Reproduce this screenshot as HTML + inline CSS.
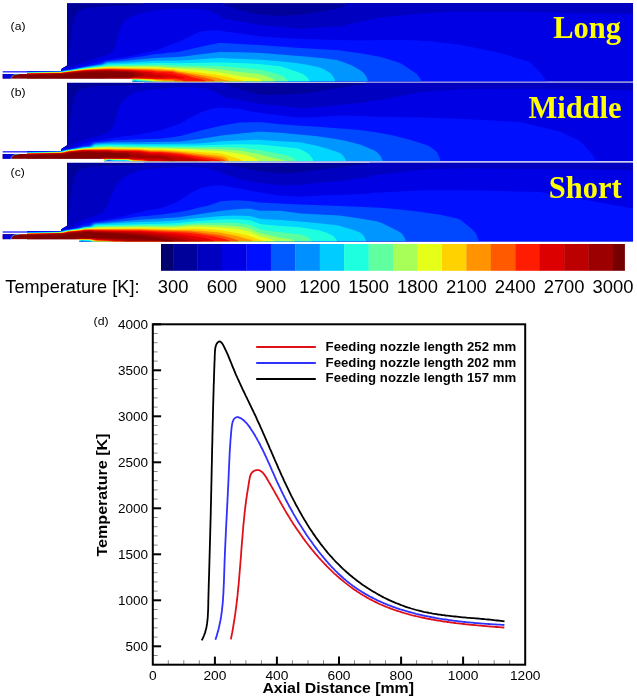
<!DOCTYPE html>
<html><head><meta charset="utf-8"><style>
html,body{margin:0;padding:0;background:#fff;width:637px;height:699px;overflow:hidden}
svg{display:block}
text{font-family:"Liberation Sans",Arial,sans-serif;fill:#000}
.cb{font-size:17.5px}
.tk{font-size:13px}
.lg{font-size:12.3px;font-weight:bold}
.ax{font-size:14.5px;font-weight:bold}
.dl{font-size:11.7px}
.pl{font-size:11.7px}
.nm{font-family:"Liberation Serif","Times New Roman",serif;font-weight:bold;font-size:30.5px;fill:#ffff00}
.mt{stroke:#888;stroke-width:1}
.Mt{stroke:#000;stroke-width:2}
</style></head><body>
<svg width="637" height="699" viewBox="0 0 637 699">
<clipPath id="clp0"><path d="M67 3.1 H633.2 V81.5 H27 V71.1 H61.3 V69.1 L67 65.5 Z"/></clipPath>
<g clip-path="url(#clp0)">
<rect x="27.0" y="3.1" width="606.2" height="78.4" fill="#00009a"/>
<path fill="#0000c0" fill-rule="evenodd" d="M144.7 3.1 222.4 3.1 223.3 4.2 225.0 5.0 238.7 9.4 257.4 14.1 262.7 14.9 280.0 15.7 300.0 14.8 320.7 11.8 342.7 7.3 343.7 6.7 344.7 5.8 345.9 3.1 633.0 3.1 633.0 81.4 27.0 81.4 27.0 61.8 59.0 61.8 65.7 62.2 66.7 62.0 67.3 59.8 68.0 56.2 69.9 43.8 71.6 29.8 73.3 20.8 74.4 17.4 76.1 14.1 77.7 12.1 79.8 10.4 81.5 9.4 83.4 8.8 91.3 7.4 110.3 6.1 138.0 5.3 142.0 4.5 143.8 3.8Z"/>
<path fill="#0000e4" fill-rule="evenodd" d="M172.7 9.1 182.0 8.8 197.3 9.1 200.9 9.4 209.7 11.3 213.0 12.3 217.0 14.3 223.0 18.0 225.7 19.0 260.3 25.0 300.0 28.7 342.7 26.2 344.3 25.8 349.0 24.0 353.7 23.3 377.7 18.0 383.0 17.2 400.3 15.5 429.3 13.1 458.3 11.6 498.7 11.5 527.7 11.8 561.7 12.9 633.0 14.1 633.0 81.4 27.0 81.4 27.0 63.8 59.7 63.9 61.4 64.4 63.2 66.4 64.7 67.4 66.3 67.9 68.0 67.9 70.3 67.3 75.7 64.9 83.7 62.8 98.0 57.6 107.9 54.8 111.1 53.1 113.3 50.2 114.7 47.2 119.3 31.1 121.3 25.8 122.3 24.0 124.0 21.8 126.0 19.8 128.3 17.9 132.2 16.1 141.3 13.0 147.0 12.2 152.0 11.0 157.7 10.1 161.7 9.7Z"/>
<path fill="#0010ff" fill-rule="evenodd" d="M213.7 30.4 219.7 30.4 225.0 31.4 259.0 36.2 281.7 38.0 300.7 39.0 358.7 40.6 381.7 39.9 415.0 40.3 431.6 41.4 460.0 44.8 499.2 52.8 528.3 61.6 530.3 62.6 532.0 64.0 541.0 72.9 543.7 76.9 545.3 80.0 545.9 81.4 27.0 81.4 27.0 70.7 57.3 70.4 68.9 69.1 87.2 64.8 104.0 60.2 138.0 54.8 141.3 53.3 149.8 52.1 160.0 49.1 178.9 41.4 199.0 31.9 202.7 31.2Z"/>
<path fill="#0048ff" fill-rule="evenodd" d="M218.7 43.1 223.0 42.9 262.3 45.3 300.0 48.0 338.0 50.2 358.7 52.9 367.5 54.4 380.7 57.1 395.7 61.4 399.7 62.9 403.4 65.1 416.7 74.0 419.0 76.7 421.0 80.1 421.5 81.4 27.0 81.4 27.0 71.8 57.2 71.4 60.3 71.2 64.3 70.3 70.7 69.4 100.3 63.4 102.0 62.9 104.7 61.4 106.3 60.9 126.7 58.7 137.3 56.9 144.7 56.1 150.0 54.9 155.7 54.1 162.0 53.7 167.3 52.8 173.3 52.5 180.3 51.6 199.7 46.9Z"/>
<path fill="#0096ff" fill-rule="evenodd" d="M219.3 52.1 239.0 52.2 261.3 52.9 302.0 56.2 321.0 58.1 336.7 60.1 341.5 61.4 350.2 64.8 354.7 67.1 361.3 71.1 363.7 72.9 365.3 74.9 367.0 78.1 368.1 81.4 27.0 81.4 27.0 72.2 60.0 71.6 65.0 70.6 71.1 69.8 85.7 66.9 101.3 64.4 103.0 63.9 105.7 62.5 107.7 62.0 126.3 60.8 137.3 59.6 155.7 57.9 181.0 56.7Z"/>
<path fill="#00d6ff" fill-rule="evenodd" d="M218.3 58.1 261.3 59.7 279.3 61.3 297.7 63.3 308.6 65.1 319.4 67.4 323.4 69.1 327.7 71.4 330.7 73.5 332.3 75.3 334.3 78.6 335.4 81.4 27.0 81.4 27.0 72.4 61.0 71.8 65.3 70.9 70.9 70.1 86.0 67.3 102.0 65.0 106.3 63.5 108.3 63.2 129.0 62.4 156.7 60.8 181.7 60.5Z"/>
<path fill="#1effe0" fill-rule="evenodd" d="M215.7 62.4 223.7 62.5 259.0 64.0 279.7 66.3 285.0 67.8 297.8 72.1 302.7 74.1 305.3 75.7 307.0 77.1 309.0 79.8 309.9 81.4 137.1 81.4 136.5 80.4 135.9 80.1 134.7 79.9 133.9 80.1 133.5 81.4 27.0 81.4 27.0 72.6 60.7 72.0 85.0 67.9 102.0 65.7 107.7 64.4 132.3 63.8 156.7 63.0 180.0 63.2Z"/>
<path fill="#5cffa0" fill-rule="evenodd" d="M151.3 64.8 162.0 64.8 179.3 65.6 219.7 66.0 259.0 69.6 263.0 70.3 274.0 72.9 280.0 74.9 282.7 76.1 284.7 77.4 287.0 79.9 288.0 81.4 142.0 81.4 140.4 80.4 134.7 79.4 133.2 79.8 133.0 80.1 132.8 81.4 27.0 81.4 27.0 72.8 61.0 72.2 84.7 68.4 102.3 66.4 107.7 65.5Z"/>
<path fill="#a8ff58" fill-rule="evenodd" d="M147.0 66.1 161.3 66.2 167.3 66.7 178.3 67.2 199.3 67.8 221.7 69.4 239.7 71.9 257.3 73.8 261.1 74.4 264.5 75.4 271.3 77.9 273.7 79.4 275.3 81.4 147.2 81.4 146.5 80.8 144.5 80.1 134.7 79.2 133.3 79.3 132.7 79.7 132.3 81.4 27.0 81.4 27.0 72.9 61.0 72.3 85.0 68.7 107.3 66.3Z"/>
<path fill="#e8ff20" fill-rule="evenodd" d="M106.3 67.1 124.0 67.0 133.0 67.2 161.0 67.3 167.3 68.0 173.3 68.2 178.7 68.7 200.4 70.1 219.0 72.3 240.0 76.2 257.3 78.4 259.7 79.2 262.4 81.4 152.6 81.4 152.1 80.8 151.4 80.4 149.8 80.1 134.3 79.0 133.1 79.1 132.3 79.4 131.9 80.1 131.8 81.4 27.0 81.4 27.0 73.1 61.0 72.5 84.7 69.1Z"/>
<path fill="#ffd600" fill-rule="evenodd" d="M105.7 67.7 113.3 67.6 133.0 68.0 151.3 68.1 161.7 68.5 167.0 69.1 173.3 69.3 178.3 70.2 200.0 72.5 220.7 75.5 241.3 80.3 243.0 80.8 244.1 81.4 155.3 81.4 154.4 80.4 152.0 79.8 134.3 78.8 132.7 79.0 131.8 79.4 131.5 80.1 131.4 81.4 27.0 81.4 27.0 73.2 61.0 72.6 67.3 71.6 84.7 69.4Z"/>
<path fill="#ff9600" fill-rule="evenodd" d="M104.3 68.4 113.0 68.2 150.7 69.0 162.0 69.6 167.0 70.1 173.0 70.3 178.3 71.4 201.0 74.7 217.8 78.1 225.0 80.0 230.0 80.9 231.4 81.4 164.2 81.4 163.3 80.8 162.3 80.6 157.3 80.3 152.6 79.4 134.3 78.6 132.7 78.8 131.7 79.2 131.2 79.8 131.0 81.4 27.0 81.4 27.0 73.3 61.0 72.7 67.7 71.7 84.7 69.7Z"/>
<path fill="#ff5200" fill-rule="evenodd" d="M99.7 69.1 108.7 68.8 125.3 69.1 150.7 69.8 157.0 70.4 172.7 71.1 177.7 72.4 184.4 73.4 205.3 77.8 212.7 79.8 214.3 80.6 215.3 81.4 175.1 81.4 174.0 80.4 172.0 80.0 158.0 79.6 151.7 79.0 134.3 78.5 132.3 78.7 131.2 79.1 130.7 79.8 130.6 81.4 27.0 81.4 27.0 73.4 61.0 72.9 68.0 71.9 84.3 70.0Z"/>
<path fill="#ff1208" fill-rule="evenodd" d="M102.0 69.4 111.0 69.3 133.3 70.0 151.0 70.8 157.3 71.5 172.0 72.1 177.0 73.5 183.7 74.8 192.3 77.3 202.3 79.6 204.7 80.5 206.1 81.4 184.1 81.4 183.0 80.7 181.0 80.1 174.0 79.1 158.0 79.1 151.7 78.7 134.7 78.3 132.0 78.5 130.7 79.1 130.3 79.8 130.1 81.4 27.0 81.4 27.0 73.6 61.3 73.0 68.0 72.1 84.3 70.3Z"/>
<path fill="#e40000" fill-rule="evenodd" d="M104.7 69.8 112.7 69.8 132.0 70.5 151.3 71.9 157.0 73.0 162.3 73.2 167.0 74.0 172.7 74.4 176.7 75.7 181.7 76.7 183.4 77.4 184.3 78.1 184.2 78.4 183.3 78.5 171.3 78.0 160.0 78.6 133.3 78.1 131.3 78.5 130.1 79.1 129.8 79.8 129.6 81.4 27.0 81.4 27.0 73.7 61.0 73.2 68.7 72.2 85.0 70.6Z"/>
<path fill="#c40000" fill-rule="evenodd" d="M94.3 70.4 110.0 70.2 133.1 71.1 149.9 73.1 152.0 73.6 155.7 75.2 162.0 75.6 163.3 76.1 163.6 76.4 162.7 77.1 160.7 77.4 151.0 77.3 132.3 78.0 130.4 78.4 129.4 79.1 129.1 79.8 128.9 81.4 27.0 81.4 27.0 73.9 61.7 73.4 68.6 72.4 82.3 71.1Z"/>
<path fill="#a40000" fill-rule="evenodd" d="M96.7 70.8 110.7 70.6 131.3 71.6 134.0 71.9 141.1 73.4 143.0 74.1 143.8 74.8 143.7 75.1 143.1 75.4 142.0 75.8 129.7 78.2 128.4 79.1 127.8 81.4 27.0 81.4 27.0 74.2 62.0 73.6 68.5 72.8 82.7 71.4Z"/>
<path fill="#840000" fill-rule="evenodd" d="M96.7 71.8 109.0 71.5 126.0 72.2 132.8 73.1 134.3 73.9 134.8 74.8 134.0 75.7 132.7 76.4 128.3 77.1 109.3 77.4 107.0 77.6 106.0 78.0 105.1 78.8 104.5 80.1 104.2 81.4 27.0 81.4 27.0 74.9 62.7 74.3 82.1 72.4Z"/>
</g>
<rect x="2.7" y="71.1" width="24.5" height="1.4" fill="#2e2eff"/>
<rect x="2.7" y="74.0" width="24.5" height="4.8" fill="#840000"/>
<path d="M2.7 74.0 H19 Q13 74.3 12 76.2 Q10.5 78.0 11 78.8 H2.7 Z" fill="#0000d8"/>
<path d="M19 74.0 Q13 74.3 12 76.2 Q10.5 78.0 11 78.8" fill="none" stroke="#40e0ff" stroke-width="0.6"/>
<rect x="0" y="78.8" width="132.0" height="3.7" fill="#fff"/>
<clipPath id="clp1"><path d="M67 82.5 H633.2 V161.3 H27 V151.1 H61.3 V149.1 L67 145.3 Z"/></clipPath>
<g clip-path="url(#clp1)">
<rect x="27.0" y="82.5" width="606.2" height="78.8" fill="#00009a"/>
<path fill="#0000c0" fill-rule="evenodd" d="M144.7 82.6 222.9 82.5 224.0 83.7 226.0 84.8 240.6 89.5 259.0 94.4 261.7 94.8 265.0 94.9 281.0 94.8 301.3 93.7 319.7 91.0 340.9 87.5 357.6 85.2 362.7 84.7 365.0 83.9 366.0 83.2 366.4 82.5 633.0 82.5 633.0 161.2 27.0 161.2 27.0 141.8 59.7 141.9 65.7 142.2 66.3 142.1 66.8 141.8 67.3 139.7 68.3 133.9 71.6 109.5 73.2 100.8 74.3 96.9 76.0 93.6 77.7 91.5 79.8 89.8 81.5 88.8 83.4 88.2 91.3 86.8 100.7 86.2 115.0 86.0 138.3 85.0 142.0 84.2 143.7 83.3Z"/>
<path fill="#0000e4" fill-rule="evenodd" d="M186.3 87.2 199.0 87.7 208.3 89.0 212.0 90.3 221.9 95.8 225.0 97.2 257.7 103.4 262.3 104.1 300.3 108.3 320.6 106.8 357.0 103.2 363.3 102.8 369.3 101.1 375.0 100.6 378.1 100.2 420.0 92.2 459.0 89.3 520.3 88.7 576.0 89.5 600.0 90.1 633.0 90.2 633.0 161.2 27.0 161.2 27.0 143.8 59.7 143.8 61.3 144.4 63.3 146.5 64.7 147.4 66.3 147.9 68.3 147.8 71.2 146.8 76.0 143.3 82.7 140.1 86.3 139.0 98.2 136.2 104.8 133.8 107.7 132.5 110.7 130.1 112.5 127.5 114.7 121.8 118.3 109.4 119.7 106.1 121.0 103.6 123.0 101.0 125.6 98.5 130.3 94.8 133.1 93.2 136.4 92.2 140.9 91.2 147.7 90.4 152.8 89.5 176.1 87.5Z"/>
<path fill="#0010ff" fill-rule="evenodd" d="M218.7 107.8 221.3 107.7 226.3 108.0 239.0 109.1 261.3 113.1 280.3 115.5 299.7 117.5 319.0 117.0 338.0 115.6 343.0 115.5 363.7 116.1 370.0 116.6 421.0 117.5 459.0 118.7 519.7 122.0 558.7 131.3 562.7 132.8 577.3 139.7 579.7 141.1 581.3 142.5 590.5 152.2 593.0 155.7 595.9 161.2 27.0 161.2 27.0 150.7 57.0 150.4 59.0 150.2 62.3 149.4 68.6 148.8 71.6 148.2 83.7 144.0 92.0 141.6 122.0 136.6 138.4 134.8 143.3 133.4 149.9 132.5 158.4 130.8 178.4 124.5 192.0 116.7 199.7 113.1 206.3 110.4 211.0 108.9Z"/>
<path fill="#0048ff" fill-rule="evenodd" d="M253.0 122.2 261.0 122.2 280.0 124.2 297.0 125.6 320.7 127.0 359.3 130.0 375.7 132.2 389.9 134.8 409.9 139.8 425.7 144.8 429.3 146.3 434.0 149.6 437.0 152.6 439.1 156.5 440.4 161.2 27.0 161.2 27.0 152.0 55.0 151.5 59.7 151.2 64.0 149.9 71.3 148.8 82.7 146.3 88.8 145.5 89.7 145.1 92.8 142.8 95.7 142.2 109.7 141.1 115.3 140.3 126.7 140.1 133.3 139.5 160.0 138.7 175.8 136.8 181.5 135.8 200.7 130.6 221.0 125.7 239.3 122.6Z"/>
<path fill="#0096ff" fill-rule="evenodd" d="M257.3 131.8 262.3 131.7 279.7 132.8 317.7 136.3 337.3 139.2 345.3 140.8 360.0 144.5 374.3 150.5 377.3 152.4 379.3 154.4 380.7 156.3 383.0 161.2 110.3 161.2 109.7 160.7 108.7 160.5 108.0 160.7 107.6 161.2 27.0 161.2 27.0 152.4 60.0 151.6 65.3 150.0 71.5 149.2 83.0 147.0 90.0 146.4 91.2 145.8 93.7 143.9 95.7 143.3 105.0 142.7 115.3 142.3 140.0 142.2 179.7 141.4 197.8 139.2 221.7 135.4 240.3 133.4Z"/>
<path fill="#00d6ff" fill-rule="evenodd" d="M256.0 139.8 261.7 139.9 280.0 141.3 299.3 142.2 303.7 142.9 314.8 145.2 322.4 147.2 336.9 151.8 339.7 153.0 341.7 154.2 343.3 155.9 345.3 159.0 346.2 161.2 113.1 161.2 112.4 160.5 111.5 160.2 108.7 159.8 106.7 160.2 106.2 161.2 27.0 161.2 27.0 152.6 60.3 151.8 66.0 150.2 83.7 147.4 90.7 146.8 92.0 146.4 94.3 144.8 96.3 144.4 107.0 143.8 126.7 143.8 135.0 144.1 159.0 144.1 197.0 143.4 201.6 143.2 221.7 141.3Z"/>
<path fill="#1effe0" fill-rule="evenodd" d="M228.7 144.5 241.0 144.2 260.0 144.6 298.0 148.5 300.1 149.2 303.0 150.5 306.0 152.2 308.7 154.0 311.0 156.4 312.7 159.1 313.5 161.2 127.3 161.2 126.7 160.7 125.7 160.4 116.0 160.3 108.7 159.6 106.3 159.8 105.8 160.2 105.6 161.2 27.0 161.2 27.0 152.8 60.3 152.0 66.7 150.4 83.7 147.8 91.0 147.2 92.5 146.8 95.0 145.7 96.7 145.4 108.0 144.9 150.3 145.6 197.0 145.5Z"/>
<path fill="#5cffa0" fill-rule="evenodd" d="M102.0 146.2 108.7 146.0 150.7 146.7 198.3 147.1 220.3 147.0 240.3 147.6 260.3 150.1 283.3 154.7 287.6 155.8 292.7 157.8 294.7 159.1 296.9 161.2 129.0 161.2 128.3 160.4 126.7 160.0 115.0 159.8 108.7 159.4 106.7 159.5 105.7 159.8 105.3 160.2 105.1 161.2 27.0 161.2 27.0 153.0 60.3 152.2 62.3 151.9 66.7 150.6 82.3 148.3 91.0 147.7 96.3 146.4Z"/>
<path fill="#a8ff58" fill-rule="evenodd" d="M98.0 147.2 107.7 146.9 140.0 147.2 216.7 148.9 226.9 149.5 239.3 150.5 247.7 152.0 258.0 154.1 267.7 156.6 283.0 160.0 284.7 160.5 285.8 161.2 130.1 161.2 129.7 160.5 129.2 160.2 127.3 159.7 115.3 159.6 108.3 159.2 105.3 159.6 104.8 160.2 104.6 161.2 27.0 161.2 27.0 153.1 60.3 152.4 62.3 152.1 65.7 151.0 67.7 150.6 83.7 148.5 91.0 148.1 95.3 147.3Z"/>
<path fill="#e8ff20" fill-rule="evenodd" d="M100.3 147.8 108.0 147.6 115.7 147.9 140.3 148.0 150.7 148.5 181.0 149.1 220.0 151.1 238.7 153.5 243.5 154.5 250.5 156.5 254.4 157.8 257.0 159.4 258.8 161.2 131.1 161.2 130.2 160.2 127.5 159.5 115.3 159.4 108.3 159.1 106.3 159.2 105.0 159.5 104.4 160.2 104.2 161.2 27.0 161.2 27.0 153.2 60.6 152.5 62.8 152.2 67.3 150.9 83.0 148.9Z"/>
<path fill="#ffd600" fill-rule="evenodd" d="M99.7 148.5 108.0 148.3 115.3 148.5 140.7 148.7 150.7 149.4 161.3 149.6 179.0 150.4 217.7 153.2 220.7 153.6 224.5 154.5 238.0 158.6 240.3 159.5 242.4 161.2 132.5 161.2 131.8 160.5 130.3 159.8 128.0 159.4 108.3 158.9 106.0 159.0 104.7 159.4 104.0 160.1 103.9 161.2 27.0 161.2 27.0 153.4 60.7 152.6 63.0 152.3 67.7 151.0 83.3 149.1Z"/>
<path fill="#ff9600" fill-rule="evenodd" d="M92.7 149.2 108.0 148.9 115.3 149.2 139.3 149.4 150.7 150.4 161.7 150.6 180.0 151.8 219.7 155.9 223.0 156.8 226.0 158.0 227.7 159.3 228.8 161.2 140.1 161.2 139.0 160.8 133.3 160.4 130.1 159.5 128.0 159.2 108.3 158.8 105.7 158.9 104.3 159.3 103.7 159.8 103.5 161.2 27.0 161.2 27.0 153.5 60.7 152.8 63.0 152.5 66.3 151.5 69.0 151.1 84.3 149.4Z"/>
<path fill="#ff5200" fill-rule="evenodd" d="M102.0 149.5 108.3 149.4 115.7 149.8 139.7 150.1 150.3 151.2 161.3 151.4 179.3 152.7 218.7 157.9 223.1 159.2 224.8 160.2 225.8 161.2 143.4 161.2 142.7 160.7 141.3 160.4 133.7 160.0 128.3 159.0 108.3 158.7 105.7 158.8 104.1 159.2 103.3 159.8 103.1 161.2 27.0 161.2 27.0 153.6 60.7 152.9 63.3 152.6 68.0 151.4 83.7 149.7Z"/>
<path fill="#ff1208" fill-rule="evenodd" d="M82.3 150.1 87.7 149.9 97.0 150.0 108.0 149.9 115.7 150.4 138.7 150.7 150.3 152.0 159.7 152.1 165.2 152.5 177.3 153.5 182.7 154.2 211.6 158.8 219.0 160.2 221.6 161.2 146.0 161.2 145.1 160.5 143.0 160.0 133.7 159.7 128.7 158.9 108.3 158.5 105.3 158.7 103.7 159.1 102.9 159.8 102.7 161.2 27.0 161.2 27.0 153.8 61.3 153.0 63.7 152.7 68.5 151.5Z"/>
<path fill="#e40000" fill-rule="evenodd" d="M81.7 150.5 87.7 150.2 96.7 150.5 108.0 150.4 115.7 150.9 128.0 151.0 140.3 151.5 150.7 152.9 162.0 153.3 181.0 155.2 202.3 159.4 209.0 160.3 211.4 161.2 148.9 161.2 148.1 160.5 147.3 160.2 143.0 159.6 134.0 159.3 128.0 158.7 108.3 158.4 105.0 158.5 103.3 159.0 102.4 159.8 102.3 161.2 27.0 161.2 27.0 153.9 61.0 153.2 64.0 152.9 68.7 151.7Z"/>
<path fill="#c40000" fill-rule="evenodd" d="M81.7 150.8 88.0 150.5 96.3 150.9 108.6 150.8 115.3 151.5 127.3 151.6 133.3 152.2 140.0 152.4 149.0 154.0 162.0 154.5 186.4 157.8 195.4 159.5 197.3 160.2 198.7 161.2 163.9 161.2 161.7 160.2 158.7 159.8 152.0 159.7 142.7 159.0 134.0 158.9 128.3 158.4 108.3 158.2 105.0 158.3 102.9 158.8 102.1 159.5 101.8 161.2 27.0 161.2 27.0 154.1 61.7 153.4 64.7 153.0 69.3 151.9Z"/>
<path fill="#a40000" fill-rule="evenodd" d="M82.3 151.2 88.3 151.0 96.0 151.4 108.0 151.3 115.3 152.2 127.3 152.3 133.3 153.5 139.5 153.8 144.0 154.9 147.3 155.4 160.1 155.8 165.6 156.8 170.3 158.2 172.3 159.2 175.0 161.2 169.8 161.2 168.7 160.3 165.7 159.3 162.7 158.7 159.3 158.3 138.7 157.9 117.7 158.1 108.3 157.9 105.0 158.0 102.3 158.6 101.4 159.5 101.2 161.2 27.0 161.2 27.0 154.4 61.7 153.6 65.0 153.3 69.6 152.2Z"/>
<path fill="#840000" fill-rule="evenodd" d="M82.0 152.2 88.0 152.0 97.0 152.5 107.3 152.2 114.7 153.3 126.3 153.4 128.3 154.0 129.4 154.8 129.7 155.5 129.4 156.2 128.7 156.8 126.7 157.3 116.0 157.4 108.0 157.1 104.3 157.4 102.0 158.0 100.4 158.8 100.1 159.5 100.0 161.2 27.0 161.2 27.0 155.1 62.0 154.4 66.3 154.0 72.1 152.8Z"/>
</g>
<rect x="2.7" y="151.1" width="24.5" height="1.4" fill="#2e2eff"/>
<rect x="2.7" y="154.0" width="24.5" height="4.9" fill="#840000"/>
<path d="M2.7 154.0 H19 Q13 154.3 12 156.2 Q10.5 158.1 11 158.9 H2.7 Z" fill="#0000d8"/>
<path d="M19 154.0 Q13 154.3 12 156.2 Q10.5 158.1 11 158.9" fill="none" stroke="#40e0ff" stroke-width="0.6"/>
<rect x="0" y="158.9" width="104.0" height="3.4" fill="#fff"/>
<clipPath id="clp2"><path d="M67 162.5 H633.2 V241.5 H27 V231.3 H61.3 V229.3 L67 225.8 Z"/></clipPath>
<g clip-path="url(#clp2)">
<rect x="27.0" y="162.5" width="606.2" height="79.0" fill="#00009a"/>
<path fill="#0000c0" fill-rule="evenodd" d="M144.3 162.7 144.4 162.5 223.0 162.5 223.7 163.4 224.7 164.0 227.3 165.0 257.2 170.8 263.9 171.8 280.7 173.5 299.7 172.4 319.3 169.6 339.7 167.6 357.3 165.1 366.0 164.6 368.3 163.9 369.3 163.2 369.8 162.5 633.0 162.5 633.0 241.5 27.0 241.5 27.0 222.2 59.7 222.2 65.7 222.5 66.3 222.5 66.8 222.2 68.0 216.5 69.8 203.8 71.6 189.5 73.3 180.5 74.3 177.0 76.0 173.6 77.7 171.5 79.8 169.8 81.5 168.8 83.4 168.2 91.3 166.8 101.7 166.2 140.3 165.1 142.7 164.4 143.7 163.6Z"/>
<path fill="#0000e4" fill-rule="evenodd" d="M175.7 167.5 187.7 167.2 196.3 167.5 201.0 167.8 208.2 168.8 211.7 169.6 218.3 171.4 225.0 174.4 241.6 179.5 261.0 183.1 277.3 185.1 281.7 185.4 299.7 184.9 320.0 182.6 340.0 181.3 358.7 178.3 367.0 177.8 369.0 177.2 372.3 175.5 374.0 175.1 382.0 174.6 417.3 169.9 422.0 169.5 462.3 168.5 539.0 168.9 633.0 169.9 633.0 241.5 27.0 241.5 27.0 224.0 59.7 224.1 61.3 224.6 63.2 226.8 65.3 228.1 67.7 228.3 70.0 227.8 71.9 226.8 75.7 223.7 81.3 220.7 85.3 219.1 97.2 215.2 101.1 213.2 103.7 211.4 106.0 208.3 107.3 205.9 112.6 192.2 115.3 186.8 117.7 183.6 120.0 181.0 123.7 177.8 127.5 175.2 130.4 173.8 139.4 170.5 148.0 168.9Z"/>
<path fill="#0010ff" fill-rule="evenodd" d="M215.3 185.5 219.0 185.2 221.7 185.4 239.6 188.5 260.7 192.6 278.7 195.5 299.0 196.8 320.0 195.5 339.7 195.1 358.7 193.9 366.7 193.7 373.3 192.7 382.3 192.5 421.0 190.2 460.7 190.3 540.0 191.9 582.7 199.6 633.0 208.4 633.0 241.5 27.0 241.5 27.0 230.9 57.3 230.6 62.3 229.7 69.3 229.0 73.8 227.8 83.7 224.0 91.7 221.8 102.5 220.2 123.7 216.2 136.3 213.0 140.7 212.2 145.0 210.8 152.2 209.8 158.7 208.5 168.5 205.5 177.6 201.5 181.0 199.5 190.0 193.6 199.3 188.8 202.3 187.8 208.0 186.5Z"/>
<path fill="#0048ff" fill-rule="evenodd" d="M234.7 200.2 249.0 200.9 259.3 202.5 263.7 202.8 299.7 204.6 340.0 205.9 380.0 207.7 400.0 209.6 417.7 211.5 438.6 214.5 457.0 218.5 459.0 219.2 461.0 220.3 471.0 228.3 474.3 231.4 475.3 232.7 476.5 234.8 478.3 239.5 478.9 241.5 27.0 241.5 27.0 232.2 59.3 231.5 63.7 230.2 71.2 229.2 79.0 227.5 83.7 226.1 88.8 225.5 89.7 225.1 92.3 223.1 94.3 222.4 103.0 221.6 139.7 216.6 160.0 214.8 177.9 212.2 189.0 210.2 199.7 207.4 208.7 205.5 220.0 201.6 224.0 201.0Z"/>
<path fill="#0096ff" fill-rule="evenodd" d="M244.7 208.8 250.3 208.8 258.3 210.4 261.0 210.8 280.0 210.7 301.0 213.4 339.7 215.4 361.9 218.8 377.4 221.5 379.7 222.2 382.8 223.5 397.0 230.5 400.3 232.4 402.0 233.8 403.3 235.6 405.1 238.8 406.0 241.5 27.0 241.5 27.0 232.6 59.9 231.8 65.0 230.4 79.3 228.2 83.7 226.9 90.0 226.3 91.2 225.8 93.3 224.0 95.7 223.3 103.0 222.9 140.0 219.7 179.0 217.3 220.3 211.0 233.7 209.6Z"/>
<path fill="#00d6ff" fill-rule="evenodd" d="M233.7 215.5 249.0 215.9 251.7 216.4 258.7 218.4 261.7 218.9 280.7 220.0 299.3 221.4 323.7 223.7 338.3 225.4 355.9 230.8 360.0 232.5 362.0 233.9 363.7 235.8 365.3 238.8 366.3 241.5 83.6 241.5 82.9 240.8 82.0 240.7 81.0 240.8 80.7 241.5 27.0 241.5 27.0 232.8 60.0 232.1 65.7 230.6 79.8 228.5 84.3 227.3 90.6 226.8 92.0 226.3 94.3 224.7 96.3 224.3 139.3 222.1 160.0 221.5 177.7 220.6 191.7 218.8 219.0 216.3Z"/>
<path fill="#1effe0" fill-rule="evenodd" d="M230.7 219.2 236.7 219.2 248.0 220.0 251.0 220.6 258.7 223.5 262.0 224.3 279.7 226.0 300.3 227.3 318.5 230.2 322.2 231.2 326.0 232.5 332.3 235.5 333.7 236.4 335.0 237.8 336.4 239.8 337.2 241.5 89.5 241.5 89.0 240.8 88.0 240.6 82.0 240.1 80.2 240.5 79.8 241.5 27.0 241.5 27.0 233.0 60.7 232.2 66.3 230.7 79.9 228.8 84.3 227.7 91.0 227.2 92.3 226.8 95.0 225.6 96.3 225.3 168.3 223.5 179.7 222.9 191.7 221.4 219.7 219.6Z"/>
<path fill="#5cffa0" fill-rule="evenodd" d="M215.7 222.8 234.0 222.8 245.0 224.1 248.3 224.6 250.7 225.2 258.8 228.8 262.3 229.9 279.7 232.3 299.0 234.2 303.9 235.5 307.7 237.1 310.0 238.9 311.0 240.2 311.7 241.5 91.0 241.5 90.5 240.5 89.6 240.2 82.0 239.9 79.9 240.2 79.5 240.5 79.2 241.5 27.0 241.5 27.0 233.2 60.3 232.4 62.1 232.2 66.7 230.9 80.0 229.1 84.7 228.0 91.3 227.6 96.3 226.3 138.7 225.3 169.3 225.2 179.3 224.7 192.3 223.4Z"/>
<path fill="#a8ff58" fill-rule="evenodd" d="M199.7 224.8 219.3 225.2 232.7 225.7 236.3 226.1 245.3 227.6 250.7 228.9 258.3 232.5 261.3 233.6 279.0 237.4 290.3 239.3 293.0 240.2 295.1 241.5 92.0 241.5 91.6 240.5 90.3 240.0 82.0 239.7 80.1 239.8 79.2 240.2 78.9 240.5 78.7 241.5 27.0 241.5 27.0 233.3 60.7 232.6 67.7 230.9 80.0 229.4 85.0 228.4 91.0 228.1 97.0 227.0 139.3 226.3 171.0 226.5 180.0 226.1 190.7 225.1Z"/>
<path fill="#e8ff20" fill-rule="evenodd" d="M187.7 226.8 199.3 226.5 218.0 227.2 235.3 228.6 249.0 231.5 259.0 236.0 270.8 239.2 273.3 240.2 275.2 241.5 92.9 241.5 92.4 240.5 90.9 239.8 82.0 239.5 80.0 239.7 79.0 240.0 78.5 240.5 78.3 241.5 27.0 241.5 27.0 233.5 60.3 232.7 62.7 232.4 67.7 231.1 80.0 229.7 85.0 228.7 91.3 228.4 96.7 227.8 139.7 227.3 171.7 227.7 180.0 227.5Z"/>
<path fill="#ffd600" fill-rule="evenodd" d="M104.0 228.5 140.0 228.2 175.3 229.0 191.7 228.5 200.3 228.8 211.3 229.6 219.3 230.3 224.7 231.0 235.0 232.7 245.7 235.0 251.0 236.4 258.3 239.4 264.0 240.7 265.9 241.5 93.8 241.5 93.3 240.5 91.3 239.7 82.0 239.4 80.0 239.5 78.7 239.8 78.1 240.5 78.0 241.5 27.0 241.5 27.0 233.6 60.3 232.9 63.0 232.5 68.0 231.3 80.0 230.0 85.3 229.0Z"/>
<path fill="#ff9600" fill-rule="evenodd" d="M95.0 229.2 140.3 228.9 171.0 230.0 190.3 230.2 200.0 230.8 219.0 232.6 230.9 234.8 236.7 236.1 250.3 239.7 252.3 240.5 253.7 241.5 95.2 241.5 94.3 240.5 91.3 239.5 81.7 239.3 79.3 239.4 78.2 239.8 77.7 240.5 77.6 241.5 27.0 241.5 27.0 233.7 60.7 233.0 63.3 232.6 68.0 231.4 80.3 230.2 85.0 229.4Z"/>
<path fill="#ff5200" fill-rule="evenodd" d="M84.0 229.8 88.3 229.5 139.7 229.7 191.0 231.6 207.3 233.4 220.7 235.3 229.3 237.5 235.7 239.4 238.0 240.5 239.1 241.5 109.3 241.5 107.0 241.1 97.0 240.6 90.7 239.3 81.7 239.1 79.3 239.3 78.0 239.7 77.4 240.2 77.2 241.5 27.0 241.5 27.0 233.8 61.0 233.1 63.3 232.8 68.3 231.6 80.3 230.5Z"/>
<path fill="#ff1208" fill-rule="evenodd" d="M84.0 230.1 88.7 229.9 96.7 230.2 140.0 230.5 187.5 232.8 200.0 234.2 214.1 236.5 225.5 239.2 228.3 240.3 230.1 241.5 111.7 241.5 111.0 241.1 109.0 240.8 96.3 240.0 90.7 239.1 81.7 239.0 79.3 239.1 77.8 239.5 77.0 240.2 76.8 241.5 27.0 241.5 27.0 234.0 61.0 233.3 63.7 232.9 68.7 231.7 80.3 230.7Z"/>
<path fill="#e40000" fill-rule="evenodd" d="M83.7 230.5 89.0 230.2 96.3 230.6 139.7 231.3 177.7 233.8 188.7 235.2 201.7 237.2 210.7 239.3 212.7 240.3 214.0 241.5 113.7 241.5 112.0 240.8 108.3 240.3 96.0 239.7 90.7 239.0 81.7 238.8 79.0 239.0 77.2 239.5 76.5 240.2 76.4 241.5 27.0 241.5 27.0 234.1 61.3 233.4 64.0 233.1 69.3 231.9 80.3 231.0Z"/>
<path fill="#c40000" fill-rule="evenodd" d="M84.0 230.8 89.3 230.6 95.7 231.1 139.0 232.3 168.3 234.7 181.9 236.5 199.3 240.2 201.0 240.8 202.2 241.5 123.4 241.5 121.3 241.0 109.3 239.9 96.0 239.3 90.3 238.7 82.0 238.7 79.0 238.8 77.0 239.2 76.0 240.2 75.9 241.5 27.0 241.5 27.0 234.3 61.3 233.6 64.3 233.3 69.0 232.2 80.3 231.3Z"/>
<path fill="#a40000" fill-rule="evenodd" d="M84.3 231.2 89.3 231.0 95.0 231.5 119.6 232.5 143.0 233.8 158.9 235.5 170.5 237.2 185.3 239.9 187.7 240.6 188.9 241.5 126.4 241.5 124.3 240.6 119.7 240.0 103.3 239.1 96.0 238.9 91.3 238.5 82.3 238.4 78.3 238.6 76.3 239.1 75.5 239.8 75.2 241.5 27.0 241.5 27.0 234.6 62.3 233.8 65.3 233.4 69.3 232.5 80.7 231.7Z"/>
<path fill="#840000" fill-rule="evenodd" d="M86.0 231.8 89.3 231.8 94.0 232.4 104.9 232.8 139.7 235.3 162.0 238.4 171.3 240.3 172.8 240.8 173.8 241.5 163.9 241.5 162.7 240.9 160.3 240.5 141.3 239.6 108.3 238.3 87.0 237.7 79.7 237.9 76.3 238.4 75.0 238.9 74.3 239.5 74.1 240.2 74.1 241.5 27.0 241.5 27.0 235.3 61.3 234.6 67.0 234.1 71.1 233.2 81.7 232.4Z"/>
</g>
<rect x="2.7" y="231.3" width="24.5" height="1.4" fill="#2e2eff"/>
<rect x="2.7" y="234.2" width="24.5" height="5.2" fill="#840000"/>
<path d="M2.7 234.2 H19 Q13 234.5 12 236.4 Q10.5 238.6 11 239.4 H2.7 Z" fill="#0000d8"/>
<path d="M19 234.2 Q13 234.5 12 236.4 Q10.5 238.6 11 239.4" fill="none" stroke="#40e0ff" stroke-width="0.6"/>
<rect x="0" y="239.4" width="79.0" height="3.1" fill="#fff"/>
<text transform="translate(10.6,29.8) scale(1.04,1)" class="pl">(a)</text>
<text transform="translate(10.6,95.8) scale(1.04,1)" class="pl">(b)</text>
<text transform="translate(10.6,176.1) scale(1.04,1)" class="pl">(c)</text>
<text x="621" y="38.2" text-anchor="end" class="nm">Long</text>
<text x="621.6" y="117.7" text-anchor="end" class="nm">Middle</text>
<text x="621.6" y="198.1" text-anchor="end" class="nm">Short</text>
<rect x="161.00" y="244" width="12.40" height="26.8" fill="#00006e"/>
<rect x="173.10" y="244" width="24.74" height="26.8" fill="#00009a"/>
<rect x="197.54" y="244" width="24.74" height="26.8" fill="#0000c0"/>
<rect x="221.98" y="244" width="24.74" height="26.8" fill="#0000e4"/>
<rect x="246.42" y="244" width="24.74" height="26.8" fill="#0010ff"/>
<rect x="270.86" y="244" width="24.74" height="26.8" fill="#0058ff"/>
<rect x="295.30" y="244" width="24.74" height="26.8" fill="#0090ff"/>
<rect x="319.74" y="244" width="24.74" height="26.8" fill="#00ccff"/>
<rect x="344.18" y="244" width="24.74" height="26.8" fill="#1effe0"/>
<rect x="368.62" y="244" width="24.74" height="26.8" fill="#60ffa0"/>
<rect x="393.06" y="244" width="24.74" height="26.8" fill="#a8ff58"/>
<rect x="417.50" y="244" width="24.74" height="26.8" fill="#e6ff18"/>
<rect x="441.94" y="244" width="24.74" height="26.8" fill="#ffd200"/>
<rect x="466.38" y="244" width="24.74" height="26.8" fill="#ff9400"/>
<rect x="490.82" y="244" width="24.74" height="26.8" fill="#ff5a00"/>
<rect x="515.26" y="244" width="24.74" height="26.8" fill="#ff1c00"/>
<rect x="539.70" y="244" width="24.74" height="26.8" fill="#dc0000"/>
<rect x="564.14" y="244" width="24.74" height="26.8" fill="#bc0000"/>
<rect x="588.58" y="244" width="24.74" height="26.8" fill="#9c0000"/>
<rect x="613.02" y="244" width="11.88" height="26.8" fill="#740000"/>
<text transform="translate(173.1,292.6) scale(1.05,1)" text-anchor="middle" class="cb">300</text>
<text transform="translate(222.0,292.6) scale(1.05,1)" text-anchor="middle" class="cb">600</text>
<text transform="translate(270.9,292.6) scale(1.05,1)" text-anchor="middle" class="cb">900</text>
<text transform="translate(319.7,292.6) scale(1.05,1)" text-anchor="middle" class="cb">1200</text>
<text transform="translate(368.6,292.6) scale(1.05,1)" text-anchor="middle" class="cb">1500</text>
<text transform="translate(417.5,292.6) scale(1.05,1)" text-anchor="middle" class="cb">1800</text>
<text transform="translate(466.4,292.6) scale(1.05,1)" text-anchor="middle" class="cb">2100</text>
<text transform="translate(515.3,292.6) scale(1.05,1)" text-anchor="middle" class="cb">2400</text>
<text transform="translate(564.1,292.6) scale(1.05,1)" text-anchor="middle" class="cb">2700</text>
<text transform="translate(613.0,292.6) scale(1.05,1)" text-anchor="middle" class="cb">3000</text>
<text transform="translate(5.3,293.1) scale(1.0375,1)" class="cb">Temperature [K]:</text>
<line x1="152.8" y1="655.5" x2="157.6" y2="655.5" class="mt"/>
<line x1="152.8" y1="637.1" x2="157.6" y2="637.1" class="mt"/>
<line x1="152.8" y1="627.9" x2="157.6" y2="627.9" class="mt"/>
<line x1="152.8" y1="618.7" x2="157.6" y2="618.7" class="mt"/>
<line x1="152.8" y1="609.5" x2="157.6" y2="609.5" class="mt"/>
<line x1="152.8" y1="591.1" x2="157.6" y2="591.1" class="mt"/>
<line x1="152.8" y1="581.9" x2="157.6" y2="581.9" class="mt"/>
<line x1="152.8" y1="572.7" x2="157.6" y2="572.7" class="mt"/>
<line x1="152.8" y1="563.5" x2="157.6" y2="563.5" class="mt"/>
<line x1="152.8" y1="545.1" x2="157.6" y2="545.1" class="mt"/>
<line x1="152.8" y1="535.9" x2="157.6" y2="535.9" class="mt"/>
<line x1="152.8" y1="526.7" x2="157.6" y2="526.7" class="mt"/>
<line x1="152.8" y1="517.5" x2="157.6" y2="517.5" class="mt"/>
<line x1="152.8" y1="499.1" x2="157.6" y2="499.1" class="mt"/>
<line x1="152.8" y1="489.9" x2="157.6" y2="489.9" class="mt"/>
<line x1="152.8" y1="480.7" x2="157.6" y2="480.7" class="mt"/>
<line x1="152.8" y1="471.5" x2="157.6" y2="471.5" class="mt"/>
<line x1="152.8" y1="453.1" x2="157.6" y2="453.1" class="mt"/>
<line x1="152.8" y1="443.9" x2="157.6" y2="443.9" class="mt"/>
<line x1="152.8" y1="434.7" x2="157.6" y2="434.7" class="mt"/>
<line x1="152.8" y1="425.5" x2="157.6" y2="425.5" class="mt"/>
<line x1="152.8" y1="407.1" x2="157.6" y2="407.1" class="mt"/>
<line x1="152.8" y1="397.9" x2="157.6" y2="397.9" class="mt"/>
<line x1="152.8" y1="388.7" x2="157.6" y2="388.7" class="mt"/>
<line x1="152.8" y1="379.5" x2="157.6" y2="379.5" class="mt"/>
<line x1="152.8" y1="361.1" x2="157.6" y2="361.1" class="mt"/>
<line x1="152.8" y1="351.9" x2="157.6" y2="351.9" class="mt"/>
<line x1="152.8" y1="342.7" x2="157.6" y2="342.7" class="mt"/>
<line x1="152.8" y1="333.5" x2="157.6" y2="333.5" class="mt"/>
<line x1="152.8" y1="646.3" x2="161.1" y2="646.3" class="Mt"/>
<text transform="translate(148,651.1) scale(1.04,1)" text-anchor="end" class="tk">500</text>
<line x1="152.8" y1="600.3" x2="161.1" y2="600.3" class="Mt"/>
<text transform="translate(148,605.1) scale(1.04,1)" text-anchor="end" class="tk">1000</text>
<line x1="152.8" y1="554.3" x2="161.1" y2="554.3" class="Mt"/>
<text transform="translate(148,559.1) scale(1.04,1)" text-anchor="end" class="tk">1500</text>
<line x1="152.8" y1="508.3" x2="161.1" y2="508.3" class="Mt"/>
<text transform="translate(148,513.1) scale(1.04,1)" text-anchor="end" class="tk">2000</text>
<line x1="152.8" y1="462.3" x2="161.1" y2="462.3" class="Mt"/>
<text transform="translate(148,467.1) scale(1.04,1)" text-anchor="end" class="tk">2500</text>
<line x1="152.8" y1="416.3" x2="161.1" y2="416.3" class="Mt"/>
<text transform="translate(148,421.1) scale(1.04,1)" text-anchor="end" class="tk">3000</text>
<line x1="152.8" y1="370.3" x2="161.1" y2="370.3" class="Mt"/>
<text transform="translate(148,375.1) scale(1.04,1)" text-anchor="end" class="tk">3500</text>
<line x1="152.8" y1="324.3" x2="161.1" y2="324.3" class="Mt"/>
<text transform="translate(148,329.1) scale(1.04,1)" text-anchor="end" class="tk">4000</text>
<line x1="168.3" y1="664.7" x2="168.3" y2="660.2" class="mt"/>
<line x1="183.8" y1="664.7" x2="183.8" y2="660.2" class="mt"/>
<line x1="199.3" y1="664.7" x2="199.3" y2="660.2" class="mt"/>
<line x1="230.4" y1="664.7" x2="230.4" y2="660.2" class="mt"/>
<line x1="245.9" y1="664.7" x2="245.9" y2="660.2" class="mt"/>
<line x1="261.4" y1="664.7" x2="261.4" y2="660.2" class="mt"/>
<line x1="292.4" y1="664.7" x2="292.4" y2="660.2" class="mt"/>
<line x1="308.0" y1="664.7" x2="308.0" y2="660.2" class="mt"/>
<line x1="323.5" y1="664.7" x2="323.5" y2="660.2" class="mt"/>
<line x1="354.5" y1="664.7" x2="354.5" y2="660.2" class="mt"/>
<line x1="370.0" y1="664.7" x2="370.0" y2="660.2" class="mt"/>
<line x1="385.5" y1="664.7" x2="385.5" y2="660.2" class="mt"/>
<line x1="416.6" y1="664.7" x2="416.6" y2="660.2" class="mt"/>
<line x1="432.1" y1="664.7" x2="432.1" y2="660.2" class="mt"/>
<line x1="447.6" y1="664.7" x2="447.6" y2="660.2" class="mt"/>
<line x1="478.6" y1="664.7" x2="478.6" y2="660.2" class="mt"/>
<line x1="494.2" y1="664.7" x2="494.2" y2="660.2" class="mt"/>
<line x1="509.7" y1="664.7" x2="509.7" y2="660.2" class="mt"/>
<text transform="translate(152.8,679.8) scale(1.06,1)" text-anchor="middle" class="tk">0</text>
<line x1="214.9" y1="664.7" x2="214.9" y2="656.6" class="Mt"/>
<text transform="translate(214.9,679.8) scale(1.06,1)" text-anchor="middle" class="tk">200</text>
<line x1="276.9" y1="664.7" x2="276.9" y2="656.6" class="Mt"/>
<text transform="translate(276.9,679.8) scale(1.06,1)" text-anchor="middle" class="tk">400</text>
<line x1="339.0" y1="664.7" x2="339.0" y2="656.6" class="Mt"/>
<text transform="translate(339.0,679.8) scale(1.06,1)" text-anchor="middle" class="tk">600</text>
<line x1="401.1" y1="664.7" x2="401.1" y2="656.6" class="Mt"/>
<text transform="translate(401.1,679.8) scale(1.06,1)" text-anchor="middle" class="tk">800</text>
<line x1="463.1" y1="664.7" x2="463.1" y2="656.6" class="Mt"/>
<text transform="translate(463.1,679.8) scale(1.06,1)" text-anchor="middle" class="tk">1000</text>
<text transform="translate(525.2,679.8) scale(1.06,1)" text-anchor="middle" class="tk">1200</text>
<rect x="152.8" y="324.3" width="372.4" height="340.4" fill="none" stroke="#000" stroke-width="2"/>
<path d="M230.8,639.4 L231.1,638.2 L231.3,637.0 L231.6,635.8 L231.8,634.6 L232.0,633.4 L232.3,632.2 L232.5,631.0 L232.7,629.8 L232.9,628.6 L233.1,627.4 L233.3,626.2 L233.5,625.0 L233.7,623.7 L233.9,622.5 L234.1,621.3 L234.3,620.1 L234.5,618.9 L234.7,617.7 L234.9,616.5 L235.0,615.3 L235.2,614.1 L235.4,612.9 L235.5,611.7 L235.7,610.4 L235.9,609.2 L236.0,608.0 L236.2,606.8 L236.3,605.6 L236.5,604.4 L236.6,603.2 L236.8,602.0 L236.9,600.7 L237.1,599.5 L237.2,598.3 L237.3,597.1 L237.5,595.9 L237.6,594.7 L237.7,593.5 L237.8,592.2 L238.0,591.0 L238.1,589.8 L238.2,588.6 L238.3,587.4 L238.5,586.2 L238.6,585.0 L238.7,583.7 L238.8,582.5 L238.9,581.3 L239.0,580.1 L239.1,578.9 L239.2,577.6 L239.3,576.4 L239.4,575.2 L239.5,574.0 L239.6,572.8 L239.7,571.5 L239.8,570.3 L239.9,569.1 L240.0,567.9 L240.1,566.7 L240.2,565.4 L240.3,564.2 L240.4,563.0 L240.5,561.8 L240.6,560.5 L240.7,559.3 L240.8,558.1 L240.9,556.9 L241.0,555.7 L241.1,554.4 L241.2,553.2 L241.2,552.0 L241.3,550.8 L241.4,549.5 L241.5,548.3 L241.6,547.1 L241.7,545.9 L241.8,544.6 L241.9,543.4 L242.0,542.2 L242.1,541.0 L242.2,539.7 L242.3,538.5 L242.4,537.3 L242.5,536.1 L242.6,534.9 L242.7,533.6 L242.8,532.4 L242.9,531.2 L243.0,530.0 L243.1,528.8 L243.2,527.5 L243.3,526.3 L243.4,525.1 L243.5,523.9 L243.7,522.7 L243.8,521.4 L243.9,520.2 L244.0,519.0 L244.1,517.8 L244.3,516.6 L244.4,515.4 L244.5,514.2 L244.6,512.9 L244.8,511.7 L244.9,510.5 L245.0,509.3 L245.2,508.1 L245.3,506.9 L245.5,505.7 L245.6,504.5 L245.8,503.3 L245.9,502.1 L246.1,500.9 L246.3,499.7 L246.4,498.5 L246.6,497.3 L246.8,496.1 L246.9,494.9 L247.1,493.7 L247.3,492.5 L247.5,491.3 L247.7,490.1 L247.9,488.9 L248.1,487.7 L248.3,486.5 L248.5,485.2 L248.7,484.0 L248.9,482.7 L249.1,481.4 L249.3,480.1 L249.6,478.7 L249.9,477.4 L250.2,476.1 L250.6,474.9 L251.1,473.8 L251.8,472.8 L252.6,472.0 L253.4,471.3 L254.4,470.7 L255.4,470.3 L256.5,470.1 L257.5,470.1 L258.6,470.2 L259.6,470.4 L260.5,470.9 L261.4,471.5 L262.3,472.2 L263.1,473.0 L263.8,473.9 L264.6,474.9 L265.3,476.0 L266.0,477.1 L266.7,478.2 L267.3,479.3 L268.0,480.5 L268.7,481.6 L269.3,482.7 L270.0,483.8 L270.6,484.9 L271.2,486.0 L271.9,487.1 L272.5,488.2 L273.1,489.3 L273.7,490.4 L274.4,491.5 L275.0,492.6 L275.6,493.7 L276.2,494.7 L276.8,495.8 L277.4,496.9 L278.0,498.0 L278.6,499.0 L279.2,500.1 L279.8,501.1 L280.4,502.2 L281.0,503.3 L281.6,504.3 L282.2,505.4 L282.8,506.4 L283.4,507.5 L284.0,508.5 L284.6,509.6 L285.2,510.6 L285.8,511.6 L286.4,512.7 L287.1,513.7 L287.7,514.7 L288.3,515.8 L288.9,516.8 L289.6,517.8 L290.2,518.9 L290.8,519.9 L291.5,520.9 L292.1,521.9 L292.8,523.0 L293.4,524.0 L294.1,525.0 L294.8,526.0 L295.4,527.1 L296.1,528.1 L296.8,529.1 L297.5,530.1 L298.2,531.1 L298.9,532.1 L299.6,533.1 L300.3,534.1 L301.0,535.1 L301.7,536.1 L302.4,537.1 L303.1,538.1 L303.9,539.1 L304.6,540.1 L305.3,541.1 L306.1,542.0 L306.8,543.0 L307.6,544.0 L308.3,545.0 L309.1,545.9 L309.8,546.9 L310.6,547.9 L311.4,548.8 L312.1,549.8 L312.9,550.7 L313.7,551.7 L314.5,552.6 L315.3,553.6 L316.1,554.5 L316.9,555.4 L317.7,556.3 L318.5,557.3 L319.3,558.2 L320.2,559.1 L321.0,560.0 L321.8,560.9 L322.7,561.8 L323.5,562.7 L324.3,563.6 L325.2,564.5 L326.1,565.4 L326.9,566.3 L327.8,567.1 L328.6,568.0 L329.5,568.9 L330.4,569.7 L331.3,570.6 L332.2,571.4 L333.1,572.3 L333.9,573.1 L334.8,573.9 L335.8,574.7 L336.7,575.6 L337.6,576.4 L338.5,577.2 L339.4,578.0 L340.3,578.8 L341.3,579.6 L342.2,580.3 L343.2,581.1 L344.1,581.9 L345.1,582.6 L346.0,583.4 L347.0,584.1 L347.9,584.9 L348.9,585.6 L349.9,586.4 L350.9,587.1 L351.8,587.8 L352.8,588.5 L353.8,589.2 L354.8,589.9 L355.8,590.6 L356.8,591.3 L357.8,591.9 L358.8,592.6 L359.9,593.2 L360.9,593.9 L361.9,594.5 L362.9,595.2 L364.0,595.8 L365.0,596.4 L366.1,597.0 L367.1,597.6 L368.2,598.2 L369.2,598.8 L370.3,599.4 L371.4,599.9 L372.4,600.5 L373.5,601.0 L374.6,601.6 L375.7,602.1 L376.8,602.6 L377.9,603.2 L379.0,603.7 L380.1,604.2 L381.2,604.7 L382.3,605.2 L383.4,605.6 L384.5,606.1 L385.7,606.6 L386.8,607.0 L387.9,607.5 L389.1,607.9 L390.2,608.3 L391.3,608.8 L392.5,609.2 L393.6,609.6 L394.8,610.0 L395.9,610.4 L397.1,610.8 L398.3,611.2 L399.4,611.5 L400.6,611.9 L401.8,612.3 L402.9,612.6 L404.1,613.0 L405.3,613.3 L406.5,613.7 L407.6,614.0 L408.8,614.3 L410.0,614.6 L411.2,615.0 L412.4,615.3 L413.6,615.6 L414.8,615.9 L416.0,616.2 L417.2,616.4 L418.4,616.7 L419.6,617.0 L420.8,617.3 L422.0,617.5 L423.2,617.8 L424.4,618.0 L425.6,618.3 L426.8,618.5 L428.1,618.8 L429.3,619.0 L430.5,619.2 L431.7,619.5 L432.9,619.7 L434.1,619.9 L435.4,620.1 L436.6,620.3 L437.8,620.5 L439.0,620.7 L440.3,620.9 L441.5,621.1 L442.7,621.3 L443.9,621.5 L445.2,621.7 L446.4,621.9 L447.6,622.0 L448.8,622.2 L450.1,622.4 L451.3,622.5 L452.5,622.7 L453.7,622.8 L455.0,623.0 L456.2,623.2 L457.4,623.3 L458.7,623.4 L459.9,623.6 L461.1,623.7 L462.3,623.9 L463.6,624.0 L464.8,624.1 L466.0,624.3 L467.2,624.4 L468.4,624.5 L469.7,624.6 L470.9,624.8 L472.1,624.9 L473.3,625.0 L474.5,625.1 L475.7,625.2 L477.0,625.3 L478.2,625.4 L479.4,625.6 L480.6,625.7 L481.8,625.8 L483.0,625.9 L484.2,626.0 L485.4,626.1 L486.6,626.2 L487.8,626.3 L489.0,626.4 L490.2,626.5 L491.4,626.6 L492.6,626.7 L493.8,626.8 L494.9,626.9 L496.1,627.0 L497.3,627.0 L498.5,627.1 L499.7,627.2 L500.8,627.3 L502.0,627.4 L503.2,627.5 L504.3,627.6" fill="none" stroke="#e01018" stroke-width="1.8"/>
<path d="M215.4,639.7 L215.9,638.3 L216.4,636.9 L216.8,635.5 L217.2,634.0 L217.6,632.6 L218.0,631.2 L218.4,629.7 L218.8,628.3 L219.1,626.8 L219.4,625.4 L219.7,624.0 L220.0,622.5 L220.3,621.1 L220.6,619.6 L220.8,618.2 L221.1,616.7 L221.3,615.2 L221.5,613.8 L221.7,612.3 L221.9,610.9 L222.0,609.4 L222.2,607.9 L222.4,606.5 L222.5,605.0 L222.7,603.5 L222.8,602.1 L222.9,600.6 L223.0,599.1 L223.1,597.6 L223.2,596.2 L223.3,594.7 L223.4,593.2 L223.5,591.7 L223.5,590.2 L223.6,588.7 L223.7,587.3 L223.7,585.8 L223.8,584.3 L223.9,582.8 L223.9,581.3 L224.0,579.8 L224.0,578.3 L224.1,576.8 L224.1,575.4 L224.2,573.9 L224.2,572.4 L224.3,570.9 L224.3,569.4 L224.4,567.9 L224.4,566.4 L224.5,564.9 L224.5,563.4 L224.6,561.9 L224.6,560.4 L224.7,558.9 L224.8,557.4 L224.8,555.9 L224.9,554.4 L224.9,552.9 L225.0,551.4 L225.1,549.9 L225.1,548.4 L225.2,546.9 L225.3,545.4 L225.3,543.9 L225.4,542.4 L225.5,540.9 L225.5,539.4 L225.6,537.9 L225.7,536.4 L225.8,534.9 L225.8,533.4 L225.9,532.0 L226.0,530.5 L226.0,529.0 L226.1,527.5 L226.2,526.0 L226.3,524.5 L226.3,523.0 L226.4,521.5 L226.5,520.0 L226.6,518.5 L226.6,517.0 L226.7,515.5 L226.8,514.0 L226.9,512.5 L226.9,511.1 L227.0,509.6 L227.1,508.1 L227.2,506.6 L227.2,505.1 L227.3,503.6 L227.4,502.2 L227.5,500.7 L227.5,499.2 L227.6,497.7 L227.7,496.3 L227.8,494.8 L227.8,493.3 L227.9,491.8 L228.0,490.4 L228.0,488.9 L228.1,487.4 L228.2,486.0 L228.3,484.5 L228.3,483.0 L228.4,481.6 L228.5,480.1 L228.5,478.7 L228.6,477.2 L228.7,475.8 L228.7,474.3 L228.8,472.9 L228.8,471.4 L228.9,470.0 L229.0,468.5 L229.0,467.1 L229.1,465.6 L229.2,464.2 L229.2,462.7 L229.3,461.3 L229.4,459.8 L229.4,458.3 L229.5,456.9 L229.6,455.4 L229.6,453.9 L229.7,452.4 L229.8,450.9 L229.9,449.4 L230.0,447.9 L230.1,446.4 L230.2,444.8 L230.3,443.3 L230.4,441.7 L230.5,440.2 L230.6,438.6 L230.8,437.0 L230.9,435.4 L231.0,433.7 L231.2,432.1 L231.3,430.4 L231.5,428.7 L231.7,427.1 L231.9,425.4 L232.2,423.9 L232.5,422.4 L233.0,421.1 L233.5,419.9 L234.1,418.9 L234.9,418.1 L235.8,417.5 L236.9,417.2 L238.1,417.2 L239.3,417.6 L240.5,418.1 L241.8,418.9 L243.0,419.8 L244.2,420.7 L245.2,421.8 L246.3,422.9 L247.3,424.0 L248.2,425.2 L249.1,426.4 L250.0,427.6 L250.8,428.9 L251.7,430.2 L252.5,431.4 L253.3,432.7 L254.1,434.0 L254.9,435.3 L255.6,436.6 L256.4,437.9 L257.1,439.2 L257.8,440.6 L258.6,441.9 L259.3,443.2 L260.0,444.5 L260.6,445.9 L261.3,447.2 L262.0,448.5 L262.7,449.9 L263.3,451.2 L264.0,452.6 L264.6,453.9 L265.2,455.3 L265.9,456.6 L266.5,458.0 L267.1,459.4 L267.7,460.7 L268.3,462.1 L269.0,463.4 L269.6,464.8 L270.2,466.2 L270.8,467.5 L271.4,468.9 L272.0,470.3 L272.6,471.6 L273.2,473.0 L273.8,474.3 L274.4,475.7 L275.0,477.1 L275.6,478.4 L276.2,479.8 L276.8,481.1 L277.4,482.5 L278.0,483.8 L278.7,485.1 L279.3,486.5 L279.9,487.8 L280.6,489.1 L281.2,490.5 L281.8,491.8 L282.5,493.1 L283.1,494.4 L283.8,495.8 L284.5,497.1 L285.1,498.4 L285.8,499.7 L286.5,501.0 L287.2,502.3 L287.9,503.6 L288.6,504.9 L289.2,506.2 L290.0,507.5 L290.7,508.8 L291.4,510.0 L292.1,511.3 L292.8,512.6 L293.5,513.9 L294.3,515.2 L295.0,516.4 L295.8,517.7 L296.5,519.0 L297.3,520.2 L298.0,521.5 L298.8,522.8 L299.6,524.0 L300.4,525.3 L301.2,526.5 L302.0,527.8 L302.8,529.0 L303.6,530.3 L304.4,531.5 L305.2,532.7 L306.0,534.0 L306.8,535.2 L307.7,536.4 L308.5,537.7 L309.4,538.9 L310.2,540.1 L311.1,541.3 L312.0,542.5 L312.8,543.8 L313.7,545.0 L314.6,546.2 L315.5,547.4 L316.4,548.6 L317.3,549.8 L318.3,551.0 L319.2,552.2 L320.1,553.4 L321.1,554.5 L322.0,555.7 L323.0,556.9 L323.9,558.0 L324.9,559.2 L325.9,560.4 L326.9,561.5 L327.9,562.6 L328.9,563.8 L329.9,564.9 L330.9,566.0 L331.9,567.1 L332.9,568.2 L334.0,569.2 L335.0,570.3 L336.1,571.4 L337.2,572.4 L338.2,573.5 L339.3,574.5 L340.4,575.5 L341.5,576.5 L342.6,577.5 L343.7,578.5 L344.9,579.5 L346.0,580.4 L347.1,581.4 L348.3,582.3 L349.4,583.2 L350.6,584.1 L351.8,585.0 L353.0,585.9 L354.2,586.7 L355.4,587.6 L356.6,588.4 L357.8,589.2 L359.0,590.0 L360.2,590.8 L361.5,591.6 L362.7,592.4 L364.0,593.1 L365.2,593.9 L366.5,594.6 L367.8,595.3 L369.1,596.1 L370.4,596.7 L371.7,597.4 L373.0,598.1 L374.3,598.8 L375.6,599.4 L376.9,600.1 L378.2,600.7 L379.6,601.3 L380.9,601.9 L382.3,602.5 L383.6,603.1 L385.0,603.6 L386.3,604.2 L387.7,604.8 L389.1,605.3 L390.5,605.8 L391.8,606.4 L393.2,606.9 L394.6,607.4 L396.0,607.9 L397.4,608.3 L398.8,608.8 L400.2,609.3 L401.7,609.7 L403.1,610.2 L404.5,610.6 L405.9,611.0 L407.4,611.4 L408.8,611.8 L410.2,612.2 L411.7,612.6 L413.1,613.0 L414.6,613.4 L416.0,613.8 L417.5,614.1 L418.9,614.5 L420.4,614.8 L421.9,615.1 L423.3,615.5 L424.8,615.8 L426.3,616.1 L427.7,616.4 L429.2,616.7 L430.7,617.0 L432.2,617.3 L433.6,617.5 L435.1,617.8 L436.6,618.1 L438.1,618.3 L439.6,618.6 L441.1,618.8 L442.5,619.1 L444.0,619.3 L445.5,619.5 L447.0,619.7 L448.5,620.0 L450.0,620.2 L451.5,620.4 L453.0,620.6 L454.5,620.8 L456.0,620.9 L457.4,621.1 L458.9,621.3 L460.4,621.5 L461.9,621.6 L463.4,621.8 L464.9,622.0 L466.4,622.1 L467.9,622.3 L469.4,622.4 L470.8,622.6 L472.3,622.7 L473.8,622.8 L475.3,623.0 L476.8,623.1 L478.2,623.2 L479.7,623.3 L481.2,623.5 L482.7,623.6 L484.1,623.7 L485.6,623.8 L487.1,623.9 L488.5,624.0 L490.0,624.1 L491.5,624.2 L492.9,624.3 L494.4,624.4 L495.8,624.5 L497.3,624.6 L498.7,624.7 L500.1,624.7 L501.6,624.8 L503.0,624.9 L504.4,625.0" fill="none" stroke="#3030ff" stroke-width="1.8"/>
<path d="M201.7,640.3 L202.5,638.8 L203.3,637.2 L204.0,635.5 L204.6,633.9 L205.2,632.2 L205.6,630.5 L206.1,628.7 L206.5,627.0 L206.8,625.2 L207.1,623.4 L207.3,621.6 L207.5,619.7 L207.7,617.9 L207.8,616.0 L207.9,614.2 L208.0,612.3 L208.1,610.4 L208.2,608.6 L208.2,606.7 L208.3,604.8 L208.3,602.9 L208.3,601.0 L208.4,599.2 L208.4,597.3 L208.5,595.4 L208.5,593.6 L208.6,591.7 L208.6,589.8 L208.7,588.0 L208.7,586.1 L208.8,584.3 L208.8,582.4 L208.9,580.6 L208.9,578.7 L209.0,576.9 L209.1,575.0 L209.1,573.2 L209.2,571.3 L209.2,569.5 L209.3,567.6 L209.3,565.8 L209.4,564.0 L209.4,562.1 L209.5,560.3 L209.5,558.4 L209.6,556.6 L209.6,554.8 L209.7,552.9 L209.7,551.1 L209.8,549.3 L209.8,547.4 L209.9,545.6 L209.9,543.7 L210.0,541.9 L210.0,540.1 L210.1,538.2 L210.1,536.4 L210.2,534.5 L210.2,532.7 L210.3,530.9 L210.3,529.0 L210.4,527.2 L210.4,525.3 L210.5,523.5 L210.5,521.6 L210.6,519.8 L210.6,517.9 L210.7,516.1 L210.7,514.2 L210.8,512.4 L210.8,510.5 L210.8,508.7 L210.9,506.8 L210.9,505.0 L211.0,503.1 L211.0,501.2 L211.1,499.4 L211.1,497.5 L211.1,495.7 L211.2,493.8 L211.2,492.0 L211.3,490.1 L211.3,488.2 L211.3,486.4 L211.4,484.5 L211.4,482.7 L211.5,480.8 L211.5,479.0 L211.5,477.1 L211.6,475.2 L211.6,473.4 L211.7,471.5 L211.7,469.7 L211.7,467.8 L211.8,466.0 L211.8,464.1 L211.9,462.2 L211.9,460.4 L211.9,458.5 L212.0,456.7 L212.0,454.8 L212.1,453.0 L212.1,451.1 L212.1,449.3 L212.2,447.4 L212.2,445.6 L212.3,443.7 L212.3,441.9 L212.4,440.0 L212.4,438.2 L212.4,436.3 L212.5,434.5 L212.5,432.6 L212.6,430.8 L212.6,429.0 L212.6,427.1 L212.7,425.3 L212.7,423.4 L212.8,421.6 L212.8,419.8 L212.9,417.9 L212.9,416.1 L212.9,414.3 L213.0,412.5 L213.0,410.6 L213.1,408.8 L213.1,407.0 L213.2,405.2 L213.2,403.3 L213.3,401.5 L213.3,399.7 L213.4,397.9 L213.4,396.0 L213.5,394.2 L213.5,392.4 L213.6,390.5 L213.6,388.7 L213.7,386.9 L213.7,385.0 L213.8,383.2 L213.9,381.3 L213.9,379.5 L214.0,377.6 L214.0,375.8 L214.1,373.9 L214.2,372.0 L214.2,370.1 L214.3,368.2 L214.4,366.3 L214.4,364.4 L214.5,362.5 L214.6,360.6 L214.7,358.7 L214.7,356.7 L214.8,354.8 L214.9,352.8 L215.0,350.8 L215.2,348.9 L215.5,347.0 L216.0,345.3 L216.7,343.7 L217.7,342.4 L218.8,341.6 L220.0,341.5 L221.1,342.1 L222.1,343.3 L223.1,344.9 L224.0,346.7 L224.9,348.5 L225.8,350.3 L226.6,352.1 L227.4,353.9 L228.2,355.6 L228.9,357.4 L229.6,359.1 L230.3,360.8 L231.0,362.5 L231.7,364.2 L232.3,365.9 L233.0,367.6 L233.7,369.2 L234.4,370.9 L235.1,372.6 L235.8,374.3 L236.6,376.0 L237.3,377.6 L238.1,379.3 L238.8,381.0 L239.6,382.7 L240.4,384.3 L241.1,386.0 L241.9,387.7 L242.7,389.4 L243.5,391.0 L244.3,392.7 L245.1,394.4 L245.9,396.1 L246.7,397.7 L247.5,399.4 L248.4,401.1 L249.2,402.8 L250.0,404.5 L250.8,406.1 L251.6,407.8 L252.4,409.5 L253.2,411.2 L254.0,412.9 L254.8,414.5 L255.6,416.2 L256.4,417.9 L257.1,419.6 L257.9,421.3 L258.7,423.0 L259.5,424.7 L260.2,426.3 L261.0,428.0 L261.7,429.7 L262.5,431.4 L263.2,433.1 L264.0,434.8 L264.7,436.5 L265.4,438.2 L266.2,439.9 L266.9,441.6 L267.6,443.2 L268.4,444.9 L269.1,446.6 L269.8,448.3 L270.6,450.0 L271.3,451.7 L272.0,453.4 L272.8,455.1 L273.5,456.8 L274.2,458.4 L274.9,460.1 L275.7,461.8 L276.4,463.5 L277.2,465.2 L277.9,466.9 L278.6,468.6 L279.4,470.2 L280.1,471.9 L280.9,473.6 L281.6,475.3 L282.4,476.9 L283.2,478.6 L283.9,480.3 L284.7,482.0 L285.5,483.6 L286.3,485.3 L287.1,487.0 L287.9,488.6 L288.7,490.3 L289.5,492.0 L290.3,493.6 L291.1,495.3 L291.9,496.9 L292.8,498.6 L293.6,500.2 L294.5,501.9 L295.3,503.5 L296.2,505.2 L297.1,506.8 L298.0,508.4 L298.9,510.1 L299.8,511.7 L300.7,513.3 L301.6,514.9 L302.5,516.5 L303.5,518.1 L304.4,519.7 L305.4,521.3 L306.4,522.9 L307.3,524.5 L308.3,526.1 L309.3,527.7 L310.3,529.2 L311.4,530.8 L312.4,532.3 L313.4,533.9 L314.5,535.4 L315.6,536.9 L316.6,538.4 L317.7,539.9 L318.8,541.4 L319.9,542.9 L321.0,544.4 L322.2,545.9 L323.3,547.3 L324.5,548.8 L325.6,550.2 L326.8,551.6 L328.0,553.1 L329.2,554.5 L330.4,555.9 L331.7,557.2 L332.9,558.6 L334.2,560.0 L335.4,561.3 L336.7,562.6 L338.0,563.9 L339.3,565.2 L340.6,566.5 L342.0,567.8 L343.3,569.1 L344.7,570.3 L346.0,571.5 L347.4,572.8 L348.8,574.0 L350.2,575.2 L351.6,576.3 L353.0,577.5 L354.5,578.6 L355.9,579.8 L357.4,580.9 L358.9,582.0 L360.3,583.1 L361.8,584.2 L363.3,585.2 L364.9,586.2 L366.4,587.3 L367.9,588.3 L369.5,589.3 L371.0,590.2 L372.6,591.2 L374.2,592.1 L375.8,593.1 L377.4,594.0 L379.0,594.9 L380.6,595.8 L382.2,596.6 L383.8,597.5 L385.5,598.3 L387.1,599.1 L388.8,599.9 L390.4,600.6 L392.1,601.4 L393.8,602.1 L395.5,602.9 L397.2,603.5 L398.9,604.2 L400.6,604.9 L402.4,605.5 L404.1,606.2 L405.8,606.8 L407.6,607.4 L409.3,607.9 L411.1,608.5 L412.9,609.0 L414.6,609.5 L416.4,610.0 L418.2,610.5 L420.0,610.9 L421.8,611.3 L423.6,611.8 L425.4,612.2 L427.3,612.5 L429.1,612.9 L430.9,613.2 L432.7,613.6 L434.6,613.9 L436.4,614.2 L438.3,614.5 L440.1,614.7 L442.0,615.0 L443.8,615.2 L445.7,615.5 L447.5,615.7 L449.4,615.9 L451.3,616.1 L453.1,616.3 L455.0,616.5 L456.9,616.7 L458.7,616.9 L460.6,617.1 L462.5,617.3 L464.3,617.4 L466.2,617.6 L468.0,617.8 L469.9,617.9 L471.8,618.1 L473.6,618.2 L475.5,618.4 L477.3,618.5 L479.2,618.7 L481.0,618.9 L482.8,619.0 L484.7,619.2 L486.5,619.3 L488.3,619.5 L490.2,619.7 L492.0,619.9 L493.8,620.1 L495.6,620.3 L497.4,620.5 L499.2,620.7 L501.0,620.9 L502.7,621.1 L504.5,621.4" fill="none" stroke="#000" stroke-width="1.8"/>
<line x1="256.2" y1="347.0" x2="315.8" y2="347.0" stroke="#e01018" stroke-width="1.8"/>
<text transform="translate(325.6,350.6) scale(1.073,1)" class="lg">Feeding nozzle length 252 mm</text>
<line x1="256.2" y1="363.0" x2="315.8" y2="363.0" stroke="#3030ff" stroke-width="1.8"/>
<text transform="translate(325.6,366.5) scale(1.073,1)" class="lg">Feeding nozzle length 202 mm</text>
<line x1="256.2" y1="379.0" x2="315.8" y2="379.0" stroke="#000" stroke-width="1.8"/>
<text transform="translate(325.6,382.3) scale(1.073,1)" class="lg">Feeding nozzle length 157 mm</text>
<text transform="translate(93.6,324.7) scale(1.05,1)" class="dl">(d)</text>
<text transform="translate(107.4,556.5) rotate(-90) scale(1.11,1)" class="ax">Temperature [K]</text>
<text transform="translate(262.4,692.8) scale(1.095,1)" class="ax">Axial Distance [mm]</text>
</svg>
</body></html>
